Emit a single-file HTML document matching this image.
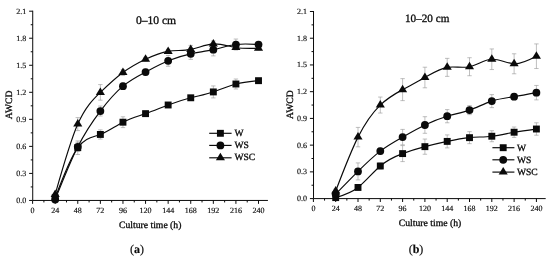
<!DOCTYPE html>
<html lang="en"><head><meta charset="utf-8"><title>AWCD</title>
<style>html,body{margin:0;padding:0;background:#fff}body{width:550px;height:259px;overflow:hidden}svg{display:block}text{text-rendering:geometricPrecision}</style>
</head><body>
<svg width="550" height="259" viewBox="0 0 550 259">
<rect width="550" height="259" fill="#fff"/>
<g stroke="#0a0a0a" stroke-width="1" fill="none">
<path d="M32.72 10.7 V200.45 H267.93"/>
<path d="M32.72 200.45h-3.6M32.72 173.41h-3.6M32.72 146.38h-3.6M32.72 119.34h-3.6M32.72 92.31h-3.6M32.72 65.27h-3.6M32.72 38.23h-3.6M32.72 11.2h-3.6M32.72 186.93h-2M32.72 159.9h-2M32.72 132.86h-2M32.72 105.82h-2M32.72 78.79h-2M32.72 51.75h-2M32.72 24.72h-2M32.6 200.45v3.4M55.19 200.45v3.4M77.78 200.45v3.4M100.37 200.45v3.4M122.96 200.45v3.4M145.56 200.45v3.4M168.15 200.45v3.4M190.74 200.45v3.4M213.33 200.45v3.4M235.92 200.45v3.4M258.51 200.45v3.4M43.9 200.45v2M66.49 200.45v2M89.08 200.45v2M111.67 200.45v2M134.26 200.45v2M156.85 200.45v2M179.44 200.45v2M202.03 200.45v2M224.63 200.45v2M247.22 200.45v2"/>
</g>
<path d="M55.19 196.8V198.8M52.99 196.8h4.4M52.99 198.8h4.4M77.78 140.9V154.5M75.58 140.9h4.4M75.58 154.5h4.4M100.37 129.86V139.06M98.17 129.86h4.4M98.17 139.06h4.4M122.96 116.8V127.6M120.76 116.8h4.4M120.76 127.6h4.4M145.56 111.14V116.14M143.36 111.14h4.4M143.36 116.14h4.4M168.15 102.99V106.99M165.95 102.99h4.4M165.95 106.99h4.4M190.74 95.79V99.79M188.54 95.79h4.4M188.54 99.79h4.4M213.33 85.93V97.93M211.13 85.93h4.4M211.13 97.93h4.4M235.92 79V89M233.72 79h4.4M233.72 89h4.4M258.51 78.67V82.67M256.31 78.67h4.4M256.31 82.67h4.4M55.19 198.51V200.51M52.99 198.51h4.4M52.99 200.51h4.4M77.78 142.3V151.3M75.58 142.3h4.4M75.58 151.3h4.4M100.37 106.03V116.03M98.17 106.03h4.4M98.17 116.03h4.4M122.96 83.16V89.16M120.76 83.16h4.4M120.76 89.16h4.4M145.56 69.11V75.11M143.36 69.11h4.4M143.36 75.11h4.4M168.15 55.45V66.25M165.95 55.45h4.4M165.95 66.25h4.4M190.74 48.22V59.42M188.54 48.22h4.4M188.54 59.42h4.4M213.33 43.47V55.87M211.13 43.47h4.4M211.13 55.87h4.4M235.92 39.04V50.04M233.72 39.04h4.4M233.72 50.04h4.4M258.51 42.04V47.04M256.31 42.04h4.4M256.31 47.04h4.4M55.19 193.46V195.46M52.99 193.46h4.4M52.99 195.46h4.4M77.78 117.6V130.6M75.58 117.6h4.4M75.58 130.6h4.4M100.37 84.58V100.18M98.17 84.58h4.4M98.17 100.18h4.4M122.96 69.56V75.56M120.76 69.56h4.4M120.76 75.56h4.4M145.56 57.31V61.31M143.36 57.31h4.4M143.36 61.31h4.4M168.15 49.38V53.38M165.95 49.38h4.4M165.95 53.38h4.4M190.74 45.4V53.4M188.54 45.4h4.4M188.54 53.4h4.4M213.33 40.91V46.91M211.13 40.91h4.4M211.13 46.91h4.4M235.92 45.51V49.51M233.72 45.51h4.4M233.72 49.51h4.4M258.51 46.23V50.23M256.31 46.23h4.4M256.31 50.23h4.4" stroke="#949494" stroke-width="0.6" fill="none"/>
<g stroke="#0a0a0a" stroke-width="1.15" fill="none">
<path d="M55.19 197.8C62.72 177.81 70.25 157.82 77.78 147.7C85.31 137.59 92.84 137.35 100.37 134.46C107.9 131.57 115.43 126.02 122.96 122.2C130.5 118.38 138.03 116.29 145.56 113.64C153.09 111 160.62 107.81 168.15 104.99C175.68 102.18 183.21 99.74 190.74 97.79C198.27 95.84 205.8 94.38 213.33 91.93C220.86 89.48 228.39 86.04 235.92 84C243.45 81.96 250.98 81.31 258.51 80.67"/>
<path d="M55.19 199.51C62.72 180.62 70.25 161.73 77.78 146.8C85.31 131.87 92.84 120.89 100.37 111.03C107.9 101.17 115.43 92.44 122.96 86.16C130.5 79.89 138.03 76.07 145.56 72.11C153.09 68.14 160.62 64.03 168.15 60.84C175.68 57.66 183.21 55.39 190.74 53.82C198.27 52.24 205.8 51.35 213.33 49.67C220.86 47.99 228.39 45.52 235.92 44.54C243.45 43.55 250.98 44.04 258.51 44.54"/>
<path d="M55.19 194.46C62.72 167.8 70.25 141.14 77.78 124.1C85.31 107.05 92.84 99.61 100.37 92.38C107.9 85.15 115.43 78.12 122.96 72.56C130.5 67 138.03 62.91 145.56 59.31C153.09 55.71 160.62 52.6 168.15 51.38C175.68 50.17 183.21 50.86 190.74 49.4C198.27 47.94 205.8 44.33 213.33 43.91C220.86 43.49 228.39 46.26 235.92 47.51C243.45 48.76 250.98 48.5 258.51 48.23"/>
<path d="M209.2 133.3H231.6"/>
<path d="M209.2 145.4H231.6"/>
<path d="M209.2 157.8H231.6"/>
</g>
<g fill="#0a0a0a">
<rect x="51.74" y="194.35" width="6.9" height="6.9"/>
<rect x="74.33" y="144.25" width="6.9" height="6.9"/>
<rect x="96.92" y="131.01" width="6.9" height="6.9"/>
<rect x="119.51" y="118.75" width="6.9" height="6.9"/>
<rect x="142.11" y="110.19" width="6.9" height="6.9"/>
<rect x="164.7" y="101.54" width="6.9" height="6.9"/>
<rect x="187.29" y="94.34" width="6.9" height="6.9"/>
<rect x="209.88" y="88.48" width="6.9" height="6.9"/>
<rect x="232.47" y="80.55" width="6.9" height="6.9"/>
<rect x="255.06" y="77.22" width="6.9" height="6.9"/>
<circle cx="55.19" cy="199.51" r="3.9"/>
<circle cx="77.78" cy="146.8" r="3.9"/>
<circle cx="100.37" cy="111.03" r="3.9"/>
<circle cx="122.96" cy="86.16" r="3.9"/>
<circle cx="145.56" cy="72.11" r="3.9"/>
<circle cx="168.15" cy="60.84" r="3.9"/>
<circle cx="190.74" cy="53.82" r="3.9"/>
<circle cx="213.33" cy="49.67" r="3.9"/>
<circle cx="235.92" cy="44.54" r="3.9"/>
<circle cx="258.51" cy="44.54" r="3.9"/>
<polygon points="55.19,189.46 50.64,196.96 59.74,196.96"/>
<polygon points="77.78,119.1 73.23,126.6 82.33,126.6"/>
<polygon points="100.37,87.38 95.82,94.88 104.92,94.88"/>
<polygon points="122.96,67.56 118.41,75.06 127.51,75.06"/>
<polygon points="145.56,54.31 141.01,61.81 150.11,61.81"/>
<polygon points="168.15,46.38 163.6,53.88 172.7,53.88"/>
<polygon points="190.74,44.4 186.19,51.9 195.29,51.9"/>
<polygon points="213.33,38.91 208.78,46.41 217.88,46.41"/>
<polygon points="235.92,42.51 231.37,50.01 240.47,50.01"/>
<polygon points="258.51,43.23 253.96,50.73 263.06,50.73"/>
<rect x="216.95" y="129.85" width="6.9" height="6.9"/>
<circle cx="220.4" cy="145.4" r="3.9"/>
<polygon points="220.4,152.8 215.85,160.3 224.95,160.3"/>
</g>
<g fill="#0a0a0a" stroke="#0a0a0a" stroke-width="0.3" font-family='"Liberation Serif", serif'>
<g font-size="8" stroke-width="0.15">
<text x="26.32" y="202.95" text-anchor="end">0.0</text>
<text x="26.32" y="175.91" text-anchor="end">0.3</text>
<text x="26.32" y="148.88" text-anchor="end">0.6</text>
<text x="26.32" y="121.84" text-anchor="end">0.9</text>
<text x="26.32" y="94.81" text-anchor="end">1.2</text>
<text x="26.32" y="67.77" text-anchor="end">1.5</text>
<text x="26.32" y="40.73" text-anchor="end">1.8</text>
<text x="26.32" y="13.7" text-anchor="end">2.1</text>
<text x="32.6" y="212.9" text-anchor="middle">0</text>
<text x="55.19" y="212.9" text-anchor="middle">24</text>
<text x="77.78" y="212.9" text-anchor="middle">48</text>
<text x="100.37" y="212.9" text-anchor="middle">72</text>
<text x="122.96" y="212.9" text-anchor="middle">96</text>
<text x="145.56" y="212.9" text-anchor="middle">120</text>
<text x="168.15" y="212.9" text-anchor="middle">144</text>
<text x="190.74" y="212.9" text-anchor="middle">168</text>
<text x="213.33" y="212.9" text-anchor="middle">192</text>
<text x="235.92" y="212.9" text-anchor="middle">216</text>
<text x="258.51" y="212.9" text-anchor="middle">240</text>
</g>
<text x="156" y="23.6" font-size="11.6" text-anchor="middle">0–10 cm</text>
<text x="150.2" y="228.3" font-size="9.7" text-anchor="middle">Culture time (h)</text>
<text transform="translate(12 104.9) rotate(-90)" font-size="9.7" text-anchor="middle">AWCD</text>
<text x="234.4" y="136.1" font-size="9.6">W</text>
<text x="234.4" y="148.2" font-size="9.6">WS</text>
<text x="234.4" y="160.2" font-size="9.6">WSC</text>
</g>
<g stroke="#0a0a0a" stroke-width="1" fill="none">
<path d="M313.52 10.99 V198.6 H545.7"/>
<path d="M313.52 198.6h-3.6M313.52 171.87h-3.6M313.52 145.14h-3.6M313.52 118.41h-3.6M313.52 91.68h-3.6M313.52 64.95h-3.6M313.52 38.22h-3.6M313.52 11.49h-3.6M313.52 185.23h-2M313.52 158.5h-2M313.52 131.78h-2M313.52 105.05h-2M313.52 78.32h-2M313.52 51.59h-2M313.52 24.86h-2M313.4 198.6v3.4M335.7 198.6v3.4M358 198.6v3.4M380.3 198.6v3.4M402.6 198.6v3.4M424.9 198.6v3.4M447.2 198.6v3.4M469.51 198.6v3.4M491.81 198.6v3.4M514.11 198.6v3.4M536.41 198.6v3.4M324.55 198.6v2M346.85 198.6v2M369.15 198.6v2M391.45 198.6v2M413.75 198.6v2M436.05 198.6v2M458.36 198.6v2M480.66 198.6v2M502.96 198.6v2M525.26 198.6v2"/>
</g>
<path d="M335.7 196.62V198.62M333.5 196.62h4.4M333.5 198.62h4.4M358 185.46V189.46M355.8 185.46h4.4M355.8 189.46h4.4M380.3 162.99V168.99M378.1 162.99h4.4M378.1 168.99h4.4M402.6 145.6V161.6M400.4 145.6h4.4M400.4 161.6h4.4M424.9 139.05V154.25M422.7 139.05h4.4M422.7 154.25h4.4M447.2 134.9V147.9M445 134.9h4.4M445 147.9h4.4M469.51 131.66V143.66M467.31 131.66h4.4M467.31 143.66h4.4M491.81 130.73V141.73M489.61 130.73h4.4M489.61 141.73h4.4M514.11 127.02V137.42M511.91 127.02h4.4M511.91 137.42h4.4M536.41 122.81V135.21M534.21 122.81h4.4M534.21 135.21h4.4M335.7 193.14V195.14M333.5 193.14h4.4M333.5 195.14h4.4M358 162.92V179.92M355.8 162.92h4.4M355.8 179.92h4.4M380.3 148.11V154.11M378.1 148.11h4.4M378.1 154.11h4.4M402.6 129.42V144.82M400.4 129.42h4.4M400.4 144.82h4.4M424.9 116.7V133.3M422.7 116.7h4.4M422.7 133.3h4.4M447.2 109.58V122.78M445 109.58h4.4M445 122.78h4.4M469.51 105.62V114.62M467.31 105.62h4.4M467.31 114.62h4.4M491.81 94.62V107.62M489.61 94.62h4.4M489.61 107.62h4.4M514.11 93.67V99.67M511.91 93.67h4.4M511.91 99.67h4.4M536.41 85.46V99.86M534.21 85.46h4.4M534.21 99.86h4.4M335.7 189.03V193.03M333.5 189.03h4.4M333.5 193.03h4.4M358 127.42V146.82M355.8 127.42h4.4M355.8 146.82h4.4M380.3 97.05V113.05M378.1 97.05h4.4M378.1 113.05h4.4M402.6 78.63V100.63M400.4 78.63h4.4M400.4 100.63h4.4M424.9 67.21V87.81M422.7 67.21h4.4M422.7 87.81h4.4M447.2 58.36V76.36M445 58.36h4.4M445 76.36h4.4M469.51 57.73V75.73M467.31 57.73h4.4M467.31 75.73h4.4M491.81 48.95V69.55M489.61 48.95h4.4M489.61 69.55h4.4M514.11 53.79V73.79M511.91 53.79h4.4M511.91 73.79h4.4M536.41 43.92V68.52M534.21 43.92h4.4M534.21 68.52h4.4" stroke="#949494" stroke-width="0.6" fill="none"/>
<g stroke="#0a0a0a" stroke-width="1.15" fill="none">
<path d="M335.7 197.62C343.13 195.43 350.57 193.24 358 187.46C365.44 181.68 372.87 172.32 380.3 165.99C387.74 159.66 395.17 156.36 402.6 153.6C410.04 150.84 417.47 148.62 424.9 146.65C432.34 144.69 439.77 142.99 447.2 141.4C454.64 139.81 462.07 138.34 469.51 137.66C476.94 136.97 484.37 137.08 491.81 136.23C499.24 135.38 506.67 133.58 514.11 132.22C521.54 130.86 528.97 129.94 536.41 129.01"/>
<path d="M335.7 194.14C343.13 186.5 350.57 178.85 358 171.42C365.44 163.99 372.87 156.78 380.3 151.11C387.74 145.44 395.17 141.32 402.6 137.12C410.04 132.92 417.47 128.65 424.9 125C432.34 121.36 439.77 118.34 447.2 116.18C454.64 114.03 462.07 112.75 469.51 110.12C476.94 107.5 484.37 103.54 491.81 101.12C499.24 98.7 506.67 97.82 514.11 96.67C521.54 95.52 528.97 94.09 536.41 92.66"/>
<path d="M335.7 191.03C343.13 171.48 350.57 151.94 358 137.12C365.44 122.3 372.87 112.21 380.3 105.05C387.74 97.88 395.17 93.66 402.6 89.63C410.04 85.6 417.47 81.77 424.9 77.51C432.34 73.26 439.77 68.58 447.2 67.36C454.64 66.13 462.07 68.35 469.51 66.73C476.94 65.12 484.37 59.66 491.81 59.25C499.24 58.83 506.67 63.46 514.11 63.79C521.54 64.13 528.97 60.17 536.41 56.22"/>
<path d="M492.4 147.7H514.4"/>
<path d="M492.4 159.8H514.4"/>
<path d="M492.4 172.1H514.4"/>
</g>
<g fill="#0a0a0a">
<rect x="332.25" y="194.17" width="6.9" height="6.9"/>
<rect x="354.55" y="184.01" width="6.9" height="6.9"/>
<rect x="376.85" y="162.54" width="6.9" height="6.9"/>
<rect x="399.15" y="150.15" width="6.9" height="6.9"/>
<rect x="421.45" y="143.2" width="6.9" height="6.9"/>
<rect x="443.75" y="137.95" width="6.9" height="6.9"/>
<rect x="466.06" y="134.21" width="6.9" height="6.9"/>
<rect x="488.36" y="132.78" width="6.9" height="6.9"/>
<rect x="510.66" y="128.77" width="6.9" height="6.9"/>
<rect x="532.96" y="125.56" width="6.9" height="6.9"/>
<circle cx="335.7" cy="194.14" r="3.9"/>
<circle cx="358" cy="171.42" r="3.9"/>
<circle cx="380.3" cy="151.11" r="3.9"/>
<circle cx="402.6" cy="137.12" r="3.9"/>
<circle cx="424.9" cy="125" r="3.9"/>
<circle cx="447.2" cy="116.18" r="3.9"/>
<circle cx="469.51" cy="110.12" r="3.9"/>
<circle cx="491.81" cy="101.12" r="3.9"/>
<circle cx="514.11" cy="96.67" r="3.9"/>
<circle cx="536.41" cy="92.66" r="3.9"/>
<polygon points="335.7,186.03 331.15,193.53 340.25,193.53"/>
<polygon points="358,132.12 353.45,139.62 362.55,139.62"/>
<polygon points="380.3,100.05 375.75,107.55 384.85,107.55"/>
<polygon points="402.6,84.63 398.05,92.13 407.15,92.13"/>
<polygon points="424.9,72.51 420.35,80.01 429.45,80.01"/>
<polygon points="447.2,62.36 442.65,69.86 451.75,69.86"/>
<polygon points="469.51,61.73 464.96,69.23 474.06,69.23"/>
<polygon points="491.81,54.25 487.26,61.75 496.36,61.75"/>
<polygon points="514.11,58.79 509.56,66.29 518.66,66.29"/>
<polygon points="536.41,51.22 531.86,58.72 540.96,58.72"/>
<rect x="499.75" y="144.25" width="6.9" height="6.9"/>
<circle cx="503.2" cy="159.8" r="3.9"/>
<polygon points="503.2,167.1 498.65,174.6 507.75,174.6"/>
</g>
<g fill="#0a0a0a" stroke="#0a0a0a" stroke-width="0.3" font-family='"Liberation Serif", serif'>
<g font-size="8" stroke-width="0.15">
<text x="307.12" y="201.1" text-anchor="end">0.0</text>
<text x="307.12" y="174.37" text-anchor="end">0.3</text>
<text x="307.12" y="147.64" text-anchor="end">0.6</text>
<text x="307.12" y="120.91" text-anchor="end">0.9</text>
<text x="307.12" y="94.18" text-anchor="end">1.2</text>
<text x="307.12" y="67.45" text-anchor="end">1.5</text>
<text x="307.12" y="40.72" text-anchor="end">1.8</text>
<text x="307.12" y="13.99" text-anchor="end">2.1</text>
<text x="313.4" y="210.5" text-anchor="middle">0</text>
<text x="335.7" y="210.5" text-anchor="middle">24</text>
<text x="358" y="210.5" text-anchor="middle">48</text>
<text x="380.3" y="210.5" text-anchor="middle">72</text>
<text x="402.6" y="210.5" text-anchor="middle">96</text>
<text x="424.9" y="210.5" text-anchor="middle">120</text>
<text x="447.2" y="210.5" text-anchor="middle">144</text>
<text x="469.51" y="210.5" text-anchor="middle">168</text>
<text x="491.81" y="210.5" text-anchor="middle">192</text>
<text x="514.11" y="210.5" text-anchor="middle">216</text>
<text x="536.41" y="210.5" text-anchor="middle">240</text>
</g>
<text x="427.2" y="22.2" font-size="11.2" text-anchor="middle">10–20 cm</text>
<text x="430" y="226.1" font-size="9.7" text-anchor="middle">Culture time (h)</text>
<text transform="translate(292.5 104.6) rotate(-90)" font-size="9.7" text-anchor="middle">AWCD</text>
<text x="516.9" y="150.5" font-size="9.6">W</text>
<text x="516.9" y="162.9" font-size="9.6">WS</text>
<text x="516.9" y="174.8" font-size="9.6">WSC</text>
</g>
<g fill="#0a0a0a" stroke="#0a0a0a" stroke-width="0.15" font-family='"Liberation Serif", serif' font-size="12" text-anchor="middle">
<text x="136.9" y="253.05">(<tspan font-weight="bold">a</tspan>)</text>
<text x="416" y="253.05">(<tspan font-weight="bold">b</tspan>)</text>
</g>
</svg>
</body></html>
